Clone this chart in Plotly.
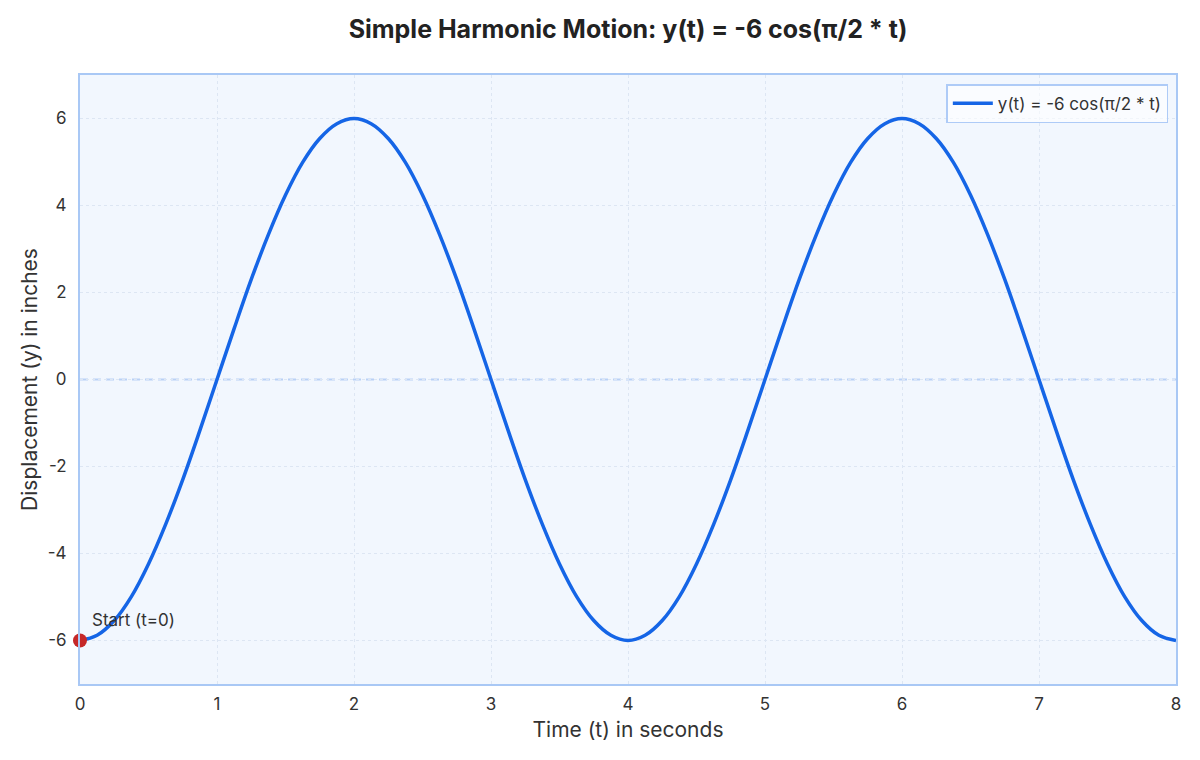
import plotly.graph_objects as go

# Time samples (seconds) and displacement values (inches)
t_values = [0, 0.125, 0.25, 0.375, 0.5, 0.625, 0.75, 0.875, 1, 1.125, 1.25, 1.375, 1.5, 1.625, 1.75, 1.875,
            2, 2.125, 2.25, 2.375, 2.5, 2.625, 2.75, 2.875, 3, 3.125, 3.25, 3.375, 3.5, 3.625, 3.75, 3.875,
            4, 4.125, 4.25, 4.375, 4.5, 4.625, 4.75, 4.875, 5, 5.125, 5.25, 5.375, 5.5, 5.625, 5.75, 5.875,
            6, 6.125, 6.25, 6.375, 6.5, 6.625, 6.75, 6.875, 7, 7.125, 7.25, 7.375, 7.5, 7.625, 7.75, 7.875, 8]
y_values = [-6, -5.88, -5.54, -4.99, -4.24, -3.33, -2.30, -1.17, 0, 1.17, 2.30, 3.33, 4.24, 4.99, 5.54, 5.88,
            6, 5.88, 5.54, 4.99, 4.24, 3.33, 2.30, 1.17, 0, -1.17, -2.30, -3.33, -4.24, -4.99, -5.54, -5.88,
            -6, -5.88, -5.54, -4.99, -4.24, -3.33, -2.30, -1.17, 0, 1.17, 2.30, 3.33, 4.24, 4.99, 5.54, 5.88,
            6, 5.88, 5.54, 4.99, 4.24, 3.33, 2.30, 1.17, 0, -1.17, -2.30, -3.33, -4.24, -4.99, -5.54, -5.88, -6]
start_t = [0]
start_y = [-6]
x_ticks = [0, 1, 2, 3, 4, 5, 6, 7, 8]
x_labels = ["0", "1", "2", "3", "4", "5", "6", "7", "8"]
y_ticks = [-6, -4, -2, 0, 2, 4, 6]
y_labels = ["-6", "-4", "-2", "0", "2", "4", "6"]

FONT = "Inter"

fig = go.Figure()
fig.add_trace(go.Scatter(
    x=t_values, y=y_values, mode="lines", line=dict(color="#1565e6", width=3.5, shape="spline", smoothing=1.0),
    name="y(t) = -6 cos(π/2 * t)"))
fig.add_trace(go.Scatter(
    x=start_t, y=start_y, mode="markers", marker=dict(color="#c62828", size=14),
    showlegend=False, cliponaxis=False))

fig.add_annotation(x=start_t[0], y=start_y[0], text="Start (t=0)", showarrow=False,
                   xanchor="left", yanchor="bottom", xshift=10, yshift=9,
                   font=dict(family=FONT, size=17, color="#333333"))

fig.add_hline(y=0, line=dict(color="#b9d1f6", width=2, dash="8px,5px"), layer="below")

fig.update_layout(
    width=1200, height=760,
    paper_bgcolor="white", plot_bgcolor="#f2f7fe",
    margin=dict(l=72, r=32, t=67, b=84),
    title=dict(text="<b>Simple Harmonic Motion: y(t) = -6 cos(π/2 * t)</b>", x=0.5, xref="paper",
               xanchor="center", y=0.972, yanchor="middle", font=dict(family=FONT, size=25, color="#222222")),
    font=dict(family=FONT, color="#333333"),
    legend=dict(x=0.993, y=0.985, xanchor="right", yanchor="top", bgcolor="rgba(255,255,255,0.6)",
                bordercolor="#aecbf7", borderwidth=1.5, font=dict(family=FONT, size=17, color="#333333"),
                itemwidth=40),
    showlegend=True,
)
fig.update_xaxes(range=[0, 8], tickvals=x_ticks, ticktext=x_labels, showgrid=True, gridcolor="#dde6f3",
                 griddash="dot", gridwidth=1, zeroline=False, showline=True, linecolor="#a9c8f5", linewidth=2,
                 mirror=True, ticks="", tickfont=dict(size=17, color="#333333"), automargin=False,
                 ticklabelstandoff=4,
                 title=dict(text="Time (t) in seconds", font=dict(size=21, color="#333333"), standoff=9))
fig.update_yaxes(range=[-7, 7], tickvals=y_ticks, ticktext=y_labels, showgrid=True, gridcolor="#dde6f3",
                 griddash="dot", gridwidth=1, zeroline=False, showline=True, linecolor="#a9c8f5", linewidth=2,
                 mirror=True, ticks="", tickfont=dict(size=17, color="#333333"), automargin=False,
                 ticklabelstandoff=8,
                 title=dict(text="Displacement (y) in inches", font=dict(size=21, color="#333333"), standoff=4))

fig.write_html("out.html")
